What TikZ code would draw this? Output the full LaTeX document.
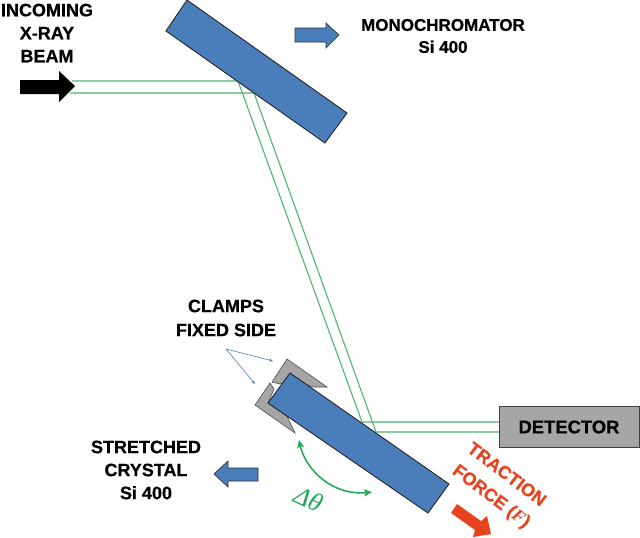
\documentclass[tikz,border=0pt]{standalone}
\usepackage{fontspec}
\setmainfont[BoldFeatures={FakeBold=0.5}]{Liberation Sans}
\definecolor{cblue}{HTML}{4A7EBB}
\definecolor{cgreen}{HTML}{50B46E}
\definecolor{agreen}{HTML}{1FA855}
\definecolor{cred}{HTML}{E8431F}
\definecolor{cgray}{HTML}{A6A6A6}
\usetikzlibrary{arrows.meta}
\tikzset{
  crystal/.style={draw=black!85,fill=cblue,line width=0.9pt,line join=miter},
  clampshape/.style={draw=black!70,fill=cgray,line width=0.6pt},
  ray/.style={draw=cgreen,line width=1.1pt},
  blockarrow/.style={draw=black!80,fill=cblue,line width=0.7pt},
  thinarrow/.style={draw=cblue,line width=0.6pt,-{Stealth[length=4pt,width=3pt]}},
  lab/.style={font=\fontsize{18}{23}\selectfont\bfseries,align=center,text=black,inner sep=0pt},
  redlab/.style={font=\fontsize{18}{20}\selectfont\bfseries,text=cred,inner sep=0pt}
}
\begin{document}
\begin{tikzpicture}[x=1pt,y=-1pt]
\useasboundingbox (0,0) rectangle (640,538);
% rays
\coordinate (r1a) at (72,81); \coordinate (r1b) at (238,81); \coordinate (r1c) at (362,422); \coordinate (r1d) at (499,422);
\coordinate (r2a) at (70,93); \coordinate (r2b) at (254,93); \coordinate (r2c) at (376,432); \coordinate (r2d) at (499,432);
\draw[ray] (r1a) -- (r1b) -- (r1c) -- (r1d);
\draw[ray] (r2a) -- (r2b) -- (r2c) -- (r2d);
% monochromator crystal
\draw[crystal] (187,0) -- (347,113) -- (325,143) -- (166,31) -- cycle;
% clamps
\draw[clampshape] (287,359) -- (327,387) -- (313,387) -- (300,382) -- (285,382) -- (280,384) -- (272,382) -- cycle;
\draw[clampshape] (270,383) -- (274,389) -- (268,403) -- (287,416) -- (295,433) -- (255,405) -- cycle;
% stretched crystal
\draw[crystal] (290,373) -- (449,484) -- (428,513) -- (268,403) -- cycle;
% block arrows
\fill[black] (20,80) -- (59,80) -- (59,71) -- (75,86) -- (59,102) -- (59,94) -- (20,94) -- cycle;
\draw[blockarrow] (295,28) -- (326,28) -- (326,23) -- (339,35) -- (326,48) -- (326,42) -- (295,42) -- cycle;
\draw[blockarrow] (214,474) -- (228,461) -- (228,468) -- (258,468) -- (258,481) -- (228,481) -- (228,487) -- cycle;
\fill[cred] (457,504) -- (481,521) -- (487,516) -- (491,534) -- (473,537) -- (475,530) -- (451,513) -- cycle;
% detector
\node[draw=black!75,fill=cgray,line width=1pt,minimum width=140pt,minimum height=41pt,inner sep=0pt,font=\fontsize{18.4}{20}\selectfont\bfseries] (det) at (569,427) {DETECTOR};
% labels
\node[lab] (inc) at (47,33) {INCOMING\\X-RAY\\BEAM};
\node[lab,font=\fontsize{17}{22}\selectfont\bfseries] (mono) at (443,36) {MONOCHROMATOR\\Si 400};
\node[lab,font=\fontsize{18}{24}\selectfont\bfseries] (cl) at (226,318) {CLAMPS\\FIXED SIDE};
\node[lab] (st) at (146,470) {STRETCHED\\CRYSTAL\\Si 400};
\node[redlab,rotate=-37] (tr) at (507,474) {TRACTION};
\node[redlab,rotate=-37] (fo) at (491,497) {FORCE ({\fontspec{Liberation Serif}\itshape F})};
\node[inner sep=0pt,text=agreen,rotate=-25,font=\fontsize{26}{28}\selectfont\fontspec{Liberation Serif}\itshape] (dt) at (309,499) {Δθ};
% thin arrows
\coordinate (c0) at (226,349); \coordinate (c1) at (273,361); \coordinate (c2) at (255,384);
\draw[thinarrow] (c0) -- (c1);
\draw[thinarrow] (c0) -- (c2);
% angle arrow
\coordinate (a1) at (299,440); \coordinate (a2) at (372,492);
\draw[draw=agreen,line width=1.5pt,{Stealth[length=8pt,width=7pt,inset=2pt]}-{Stealth[length=8pt,width=7pt,inset=2pt]}] (a1) .. controls (306,472) and (335,496) .. (a2);
\end{tikzpicture}
\end{document}
